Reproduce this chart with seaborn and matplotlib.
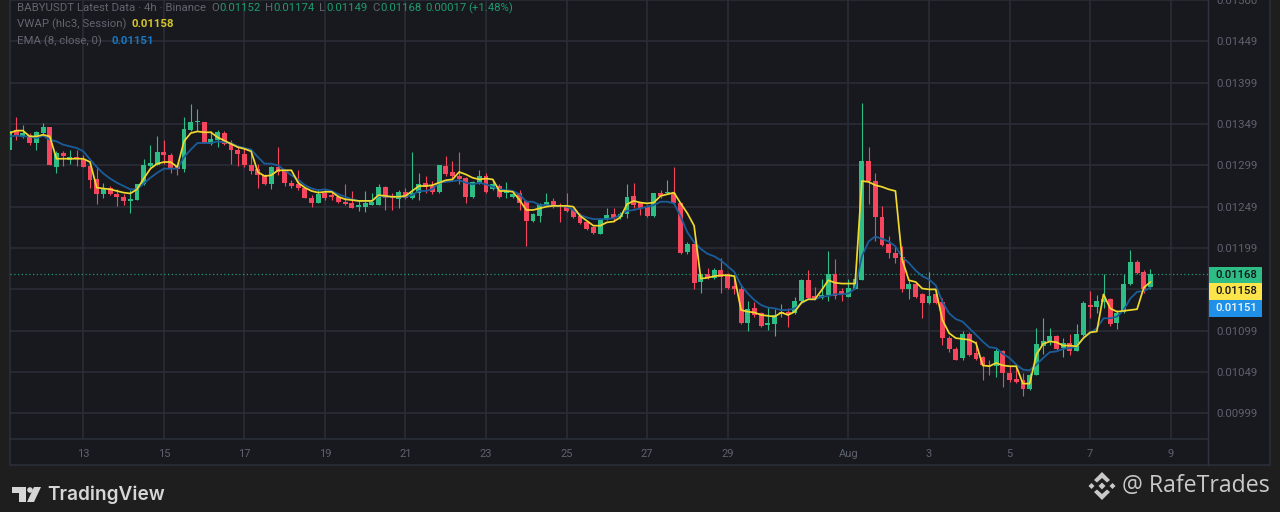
import pandas as pd
import matplotlib
matplotlib.use('Agg')
import matplotlib.pyplot as plt
import matplotlib.dates as mdates
from matplotlib.patches import Rectangle, Polygon, Circle
import seaborn as sns

# Prices, in units of 0.00001 USDT (one 4h candle per entry)
opens = [1318,1342,1335,1336,1326,1338,1345,1297,1314,1306,
         1309,1307,1298,1282,1264,1271,1264,1261,1256,1257,
         1276,1298,1299,1315,1311,1298,1295,1342,1351,1351,
         1325,1330,1338,1326,1318,1313,1299,1294,1287,1277,
         1297,1293,1278,1276,1272,1260,1254,1265,1262,1261,
         1255,1253,1249,1249,1251,1251,1273,1261,1258,1267,
         1259,1265,1278,1274,1267,1298,1291,1286,1284,1261,
         1278,1286,1270,1274,1266,1261,1266,1256,1232,1238,
         1251,1256,1251,1250,1245,1238,1231,1224,1216,1234,
         1240,1236,1240,1262,1253,1249,1238,1265,1265,1266,
         1253,1194,1204,1158,1167,1163,1173,1167,1153,1150,
         1108,1127,1120,1106,1107,1120,1122,1120,1135,1160,
         1141,1138,1142,1168,1147,1140,1150,1160,1304,1280,
         1237,1204,1193,1188,1150,1155,1143,1132,1143,1134,
         1090,1077,1066,1095,1072,1067,1058,1056,1075,1048,
         1041,1039,1028,1046,1081,1087,1092,1078,1084,1075,
         1094,1130,1128,1134,1137,1108,1122,1155,1182,1170,
         1152]
closes = [1341,1334,1338,1326,1339,1345,1299,1314,1310,1309,
          1307,1297,1281,1264,1271,1264,1261,1256,1258,1276,
          1299,1302,1315,1311,1296,1295,1343,1351,1352,1326,
          1331,1339,1325,1318,1313,1299,1292,1287,1276,1297,
          1291,1278,1274,1271,1260,1253,1264,1259,1261,1255,
          1252,1248,1251,1253,1255,1273,1259,1259,1267,1259,
          1266,1276,1273,1267,1299,1289,1286,1282,1261,1279,
          1286,1267,1276,1261,1268,1264,1253,1232,1240,1252,
          1255,1250,1249,1244,1236,1229,1222,1217,1234,1239,
          1235,1240,1261,1251,1248,1238,1265,1262,1267,1253,
          1193,1204,1157,1167,1163,1173,1164,1151,1149,1108,
          1125,1118,1105,1108,1118,1122,1119,1135,1160,1139,
          1137,1142,1167,1141,1142,1151,1162,1304,1280,1236,
          1203,1193,1187,1150,1155,1140,1132,1141,1133,1090,
          1077,1064,1095,1070,1065,1057,1056,1075,1048,1039,
          1037,1028,1046,1083,1087,1093,1077,1084,1075,1095,
          1132,1128,1135,1137,1107,1121,1156,1182,1169,1149,
          1168]
highs = [1341,1357,1348,1338,1341,1350,1345,1316,1316,1317,
         1317,1311,1301,1297,1278,1274,1270,1264,1269,1277,
         1307,1324,1334,1330,1314,1301,1357,1373,1367,1351,
         1340,1342,1341,1330,1322,1320,1318,1301,1289,1298,
         1321,1295,1281,1293,1273,1263,1270,1270,1268,1263,
         1276,1268,1257,1268,1265,1277,1274,1266,1269,1272,
         1315,1290,1286,1280,1300,1310,1304,1315,1285,1280,
         1293,1290,1282,1276,1279,1268,1269,1257,1241,1253,
         1265,1259,1253,1266,1247,1241,1232,1226,1235,1247,
         1247,1243,1276,1278,1255,1251,1266,1269,1281,1297,
         1254,1206,1205,1168,1175,1175,1187,1169,1165,1156,
         1135,1134,1122,1128,1125,1131,1126,1140,1162,1173,
         1152,1162,1196,1186,1151,1162,1165,1374,1321,1290,
         1250,1214,1201,1201,1160,1156,1145,1170,1148,1139,
         1092,1079,1099,1098,1086,1068,1064,1078,1076,1056,
         1057,1048,1048,1102,1114,1102,1094,1090,1095,1107,
         1135,1147,1142,1167,1138,1124,1167,1197,1184,1173,
         1174]
lows = [1318,1330,1332,1324,1318,1336,1299,1290,1298,1301,
        1298,1297,1272,1252,1259,1263,1250,1251,1241,1257,
        1275,1297,1299,1301,1290,1287,1291,1341,1340,1326,
        1324,1321,1324,1301,1298,1297,1289,1271,1275,1270,
        1287,1274,1271,1269,1259,1249,1253,1257,1257,1253,
        1251,1247,1244,1243,1251,1251,1245,1245,1248,1258,
        1258,1257,1266,1264,1266,1286,1284,1276,1253,1260,
        1277,1266,1269,1260,1259,1260,1245,1202,1231,1231,
        1250,1247,1231,1243,1235,1228,1221,1216,1216,1233,
        1231,1234,1235,1247,1239,1237,1237,1259,1264,1252,
        1192,1192,1150,1144,1161,1162,1144,1149,1143,1107,
        1099,1115,1103,1100,1092,1115,1104,1119,1134,1137,
        1136,1137,1135,1137,1135,1140,1149,1160,1252,1207,
        1201,1187,1181,1146,1137,1139,1114,1131,1131,1082,
        1073,1063,1063,1068,1064,1039,1046,1043,1031,1037,
        1036,1020,1027,1046,1071,1082,1076,1067,1069,1074,
        1093,1114,1121,1126,1105,1101,1121,1154,1168,1144,
        1149]
vwap = [1338,1341,1341,1334,1334,1336,1334,1307,1307,1307,
        1307,1307,1303,1272,1271,1270,1268,1266,1265,1270,
        1283,1295,1301,1303,1303,1297,1328,1338,1340,1339,
        1339,1333,1329,1325,1321,1319,1316,1291,1286,1287,
        1293,1293,1293,1278,1272,1268,1266,1267,1267,1261,
        1258,1257,1256,1256,1256,1263,1262,1261,1261,1262,
        1268,1274,1274,1275,1278,1281,1282,1291,1288,1284,
        1282,1283,1282,1268,1268,1267,1257,1245,1245,1247,
        1249,1250,1250,1250,1249,1238,1232,1226,1226,1230,
        1231,1236,1252,1256,1254,1253,1254,1262,1264,1266,
        1253,1241,1226,1162,1163,1165,1166,1166,1165,1124,
        1122,1121,1118,1117,1116,1121,1118,1122,1133,1137,
        1137,1148,1160,1157,1156,1156,1156,1280,1279,1275,
        1273,1270,1268,1185,1160,1158,1150,1149,1149,1112,
        1096,1090,1089,1088,1084,1057,1056,1060,1057,1056,
        1056,1035,1035,1070,1083,1086,1085,1081,1081,1080,
        1090,1097,1098,1143,1126,1122,1123,1124,1125,1151,
        1158]
ema = [1334,1335,1334,1334,1332,1335,1330,1328,1324,1322,
       1320,1316,1306,1297,1289,1283,1278,1274,1270,1270,
       1277,1284,1290,1295,1295,1295,1309,1318,1326,1326,
       1326,1328,1327,1326,1322,1320,1318,1309,1301,1301,
       1299,1293,1287,1282,1275,1271,1269,1270,1268,1264,
       1261,1258,1256,1256,1256,1262,1261,1261,1261,1261,
       1263,1268,1268,1270,1278,1279,1280,1281,1278,1276,
       1278,1276,1273,1270,1269,1268,1264,1255,1255,1251,
       1251,1250,1250,1249,1245,1239,1236,1234,1234,1234,
       1235,1239,1244,1245,1247,1249,1251,1255,1255,1253,
       1237,1218,1206,1198,1192,1189,1184,1177,1170,1154,
       1144,1136,1130,1127,1126,1124,1124,1126,1132,1137,
       1137,1140,1141,1143,1143,1144,1150,1189,1207,1213,
       1210,1207,1201,1188,1181,1172,1165,1161,1154,1134,
       1120,1113,1110,1102,1094,1086,1079,1078,1071,1066,
       1058,1052,1051,1058,1066,1073,1074,1077,1078,1080,
       1090,1096,1102,1114,1114,1116,1124,1138,1146,1147,
       1151]

price_ticks = [1499,1449,1399,1349,1299,1249,1199,1149,1099,1049,999]
price_labels = ['0.01500','0.01449','0.01399','0.01349','0.01299','0.01249','0.01199','','0.01099','0.01049','0.00999']
date_ticks = ['2025-07-13','2025-07-15','2025-07-17','2025-07-19','2025-07-21','2025-07-23','2025-07-25','2025-07-27',
              '2025-07-29','2025-08-01','2025-08-03','2025-08-05','2025-08-07','2025-08-09']
date_labels = ['13','15','17','19','21','23','25','27','29','Aug','3','5','7','9']

OUTER = '#1e1e1e'
PANE = '#17191f'
GRID = '#2a2e38'
AXIS_TEXT = '#5e626d'
LEGEND_TEXT = '#63666f'
UP = '#2ebd85'
DOWN = '#f6465d'
VWAP_COL = '#f0d92c'
EMA_COL = '#1b5c99'

sns.set_theme(style='dark')
plt.rcParams['font.family'] = ['Roboto', 'DejaVu Sans']

df = pd.DataFrame({'open': opens, 'high': highs, 'low': lows, 'close': closes, 'vwap': vwap, 'ema': ema}) / 1e5
df['time'] = pd.date_range('2025-07-11 04:00', periods=len(df), freq='4h')
df['up'] = df['close'] >= df['open']
df['color'] = df['up'].map({True: UP, False: DOWN})

W, H = 1280, 512
fig = plt.figure(figsize=(12.8, 5.12), dpi=100, facecolor=OUTER)

# page background + pixel-space overlay for labels and logos
bg = fig.add_axes([0, 0, 1, 1], zorder=0)
bg.set_xlim(0, W)
bg.set_ylim(H, 0)
bg.axis('off')
bg.add_patch(Rectangle((10, -2), 1260, 467, facecolor=PANE, edgecolor=GRID, linewidth=1.2))
bg.plot([1208, 1208], [0, 465], color='#2f3442', lw=1.0)

ax = fig.add_axes([10 / W, (H - 439) / H, 1198 / W, 439 / H], zorder=1)
ax.patch.set_alpha(0)

# candles
t = mdates.date2num(df['time'])
ax.vlines(df['time'], df['low'], df['high'], colors=df['color'], linewidth=0.8, zorder=3)
ax.bar(df['time'], (df['close'] - df['open']).abs().clip(lower=0.00002),
       bottom=df[['open', 'close']].min(axis=1), width=0.122, color=df['color'], linewidth=0, zorder=4)

# indicators
sns.lineplot(data=df, x='time', y='ema', ax=ax, color=EMA_COL, linewidth=1.3, estimator=None, errorbar=None, zorder=5)
sns.lineplot(data=df, x='time', y='vwap', ax=ax, color=VWAP_COL, linewidth=1.25, estimator=None, errorbar=None, zorder=6)

# last price line
ax.axhline(df['close'].iloc[-1], color=UP, linewidth=0.9, linestyle=(0, (1, 2)), alpha=0.75, zorder=2)

ax.set_xlim(t[0] + 0.5 / 40.27, t[0] + 1198.5 / 40.27)
ax.set_ylim(968e-5, 1499e-5)
ax.set_xticks(mdates.date2num(pd.to_datetime(date_ticks)))
ax.set_xticklabels(date_labels)
ax.yaxis.tick_right()
ax.set_yticks([p / 1e5 for p in price_ticks])
ax.set_yticklabels(price_labels)
ax.set_xlabel('')
ax.set_ylabel('')
ax.grid(True, color=GRID, linewidth=1.15, zorder=0)
ax.set_axisbelow(True)
ax.tick_params(axis='x', length=0, pad=7, labelsize=8, labelcolor=AXIS_TEXT)
ax.tick_params(axis='y', length=0, pad=6, labelsize=8.2, labelcolor=AXIS_TEXT)
for side in ['top', 'left', 'right']:
    ax.spines[side].set_visible(False)
ax.spines['bottom'].set_color(GRID)
ax.spines['bottom'].set_linewidth(1.2)

over = fig.add_axes([0, 0, 1, 1], zorder=2)
over.set_xlim(0, W)
over.set_ylim(H, 0)
over.axis('off')
over.patch.set_alpha(0)

# price tags on the axis
tags = [('0.01168', 267, UP, '#12141a'), ('0.01158', 283, '#fbe54a', '#12141a'), ('0.01151', 300, '#1e90e8', '#f2f6fa')]
for label, top, fill, txt in tags:
    over.add_patch(Rectangle((1209, top), 53, 16.5, facecolor=fill, edgecolor='none'))
    over.text(1236, top + 8.3, label, color=txt, fontsize=8.2, fontweight='medium', ha='center', va='center')

# legend lines
LEG = dict(fontsize=8.2, va='center', ha='left')
DIM_UP = '#1f9a6c'
over.text(17, 8, 'BABYUSDT Latest Data · 4h · Binance', color=LEGEND_TEXT, **LEG)
for x, s, c in [(211, 'O', LEGEND_TEXT), (219, '0.01152', DIM_UP), (265, 'H', LEGEND_TEXT), (273, '0.01174', DIM_UP),
                (319, 'L', LEGEND_TEXT), (326, '0.01149', DIM_UP), (372, 'C', LEGEND_TEXT), (380, '0.01168', DIM_UP),
                (425, '0.00017', DIM_UP), (468, '(+1.48%)', DIM_UP)]:
    over.text(x, 8, s, color=c, **LEG)
over.text(17, 24, 'VWAP (hlc3, Session)', color=LEGEND_TEXT, **LEG)
over.text(132, 24, '0.01158', color='#d8c52a', fontweight='bold', **LEG)
over.text(17, 41, 'EMA (8, close, 0)', color=LEGEND_TEXT, **LEG)
over.text(112, 41, '0.01151', color='#1a76bd', fontweight='bold', **LEG)

# TradingView logo and word
LOGO = '#d6d6d6'
over.add_patch(Polygon([(12, 487), (26, 487), (26, 502), (19, 502), (19, 493), (12, 493)], facecolor=LOGO, edgecolor='none'))
over.add_patch(Circle((30, 490), 2.8, facecolor=LOGO, edgecolor='none'))
over.add_patch(Polygon([(34, 487), (41, 487), (34, 502), (27, 502)], facecolor=LOGO, edgecolor='none'))
over.text(47.5, 495, 'TradingView', color=LOGO, fontsize=13.7, fontfamily=['Inter', 'DejaVu Sans'],
          fontweight='semibold', va='center', ha='left')

# Binance style mark and handle
MARK = '#c9c9c9'
cx, cy = 1102, 486
over.add_patch(Polygon([(cx, cy - 3.5), (cx + 3.5, cy), (cx, cy + 3.5), (cx - 3.5, cy)], facecolor=MARK, edgecolor='none'))
for dx in (-10.5, 10.5):
    over.add_patch(Polygon([(cx + dx, cy - 3), (cx + dx + 3, cy), (cx + dx, cy + 3), (cx + dx - 3, cy)], facecolor=MARK, edgecolor='none'))
over.add_patch(Polygon([(cx, cy - 14), (cx + 8, cy - 6), (cx + 5, cy - 3.5), (cx, cy - 8), (cx - 5, cy - 3.5), (cx - 8, cy - 6)], facecolor=MARK, edgecolor='none'))
over.add_patch(Polygon([(cx, cy + 14), (cx + 8, cy + 6), (cx + 5, cy + 3.5), (cx, cy + 8), (cx - 5, cy + 3.5), (cx - 8, cy + 6)], facecolor=MARK, edgecolor='none'))
over.text(1122, 486, '@ RafeTrades', color=MARK, fontsize=16.7, fontfamily=['Open Sans', 'DejaVu Sans'],
          va='center', ha='left')

fig.savefig('out.png', dpi=100, facecolor=OUTER)
